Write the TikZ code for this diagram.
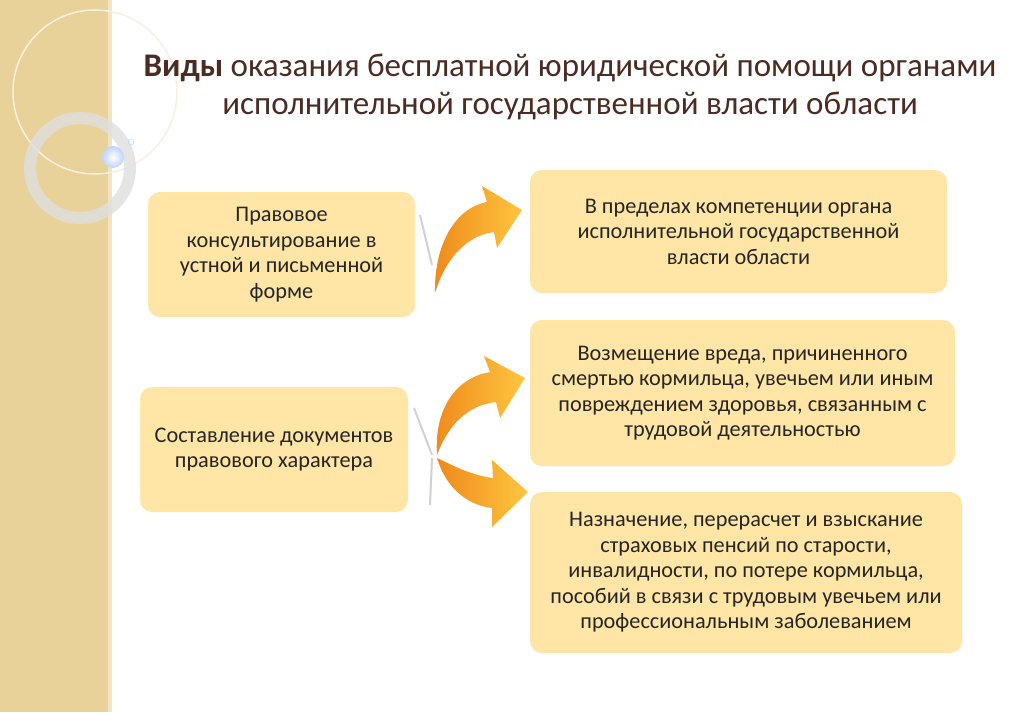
\documentclass[tikz,border=0pt]{standalone}
\usepackage{fontspec}
\setmainfont{Carlito}
\usetikzlibrary{shadings}
\definecolor{boxfill}{HTML}{FFE6A6}
\definecolor{tan}{HTML}{E9D29A}
\definecolor{titlec}{HTML}{4A2C22}
\definecolor{arrA}{HTML}{EE8A1C}
\definecolor{arrB}{HTML}{FFC640}
\tikzset{
  box/.style={fill=boxfill, rounded corners=12pt, draw=none},
  btext/.style={align=center, font=\fontsize{22.3}{25.5}\selectfont, text=black!85},
  arr/.style={left color=arrA, right color=arrB, draw=none}
}
\begin{document}
\begin{tikzpicture}[x=1pt,y=-1pt]
\useasboundingbox (0,0) rectangle (1024,712);
\fill[white] (0,0) rectangle (1024,712);
\fill[tan] (0,0) rectangle (112,712);
\fill[tan!60!white] (108,0) rectangle (112,712);
% decorations
\draw[white!70!tan, line width=1.5pt] (95,92) circle (82);
\draw[gray!25, opacity=0.8, line width=12pt] (80,168) circle (50);
\shade[inner color=white, outer color=cyan!30!blue!25] (113,157) circle (11);
\draw[cyan!40] (131,142) circle (3);
% title
\node[text=titlec, font=\fontsize{33}{38}\selectfont] (t1) at (570,68) {\textbf{Виды} оказания бесплатной юридической помощи органами};
\node[text=titlec, font=\fontsize{33}{38}\selectfont] (t2) at (570,106) {исполнительной государственной власти области};
% boxes
\path[box] (148,192) rectangle (415,317);
\node[btext] (b1) at (281.5,254.5) {Правовое\\консультирование в\\устной и письменной\\форме};
\path[box] (140,387) rectangle (408,512);
\node[btext] (b5) at (274,449.5) {Составление документов\\правового характера};
\path[box] (530,170) rectangle (947,293);
\node[btext] (b2) at (738.5,231.5) {В пределах компетенции органа\\исполнительной государственной\\власти области};
\path[box] (530,320) rectangle (955,466);
\node[btext] (b3) at (742.5,393) {Возмещение вреда, причиненного\\смертью кормильца, увечьем или иным\\повреждением здоровья, связанным с\\трудовой деятельностью};
\path[box] (530,492) rectangle (962,653);
\node[btext] (b4) at (746,572.5) {Назначение, перерасчет и взыскание\\страховых пенсий по старости,\\инвалидности, по потере кормильца,\\пособий в связи с трудовым увечьем или\\профессиональным заболеванием};
% shadows
\draw[gray!35, line width=2pt] (420,215) -- (432,265);
\draw[gray!35, line width=2pt] (414,408) -- (432,455);
\draw[gray!35, line width=2pt] (432,458) -- (430,505);
% arrows
\path[arr] (435,293) .. controls (434,245) and (455,208) .. (487,202) -- (482,186) -- (522,210) -- (497,248) -- (494,232) .. controls (465,236) and (445,260) .. (435,293) -- cycle;
\path[arr] (437,455) .. controls (434,410) and (455,378) .. (490,372) -- (484,356) -- (525,378) -- (500,418) -- (496,402) .. controls (468,405) and (448,425) .. (437,455) -- cycle;
\path[arr] (437,458) .. controls (452,465) and (470,475) .. (493,478) -- (492,460) -- (528,492) -- (492,527) -- (492,508) .. controls (465,505) and (445,485) .. (437,458) -- cycle;
\end{tikzpicture}
\end{document}
